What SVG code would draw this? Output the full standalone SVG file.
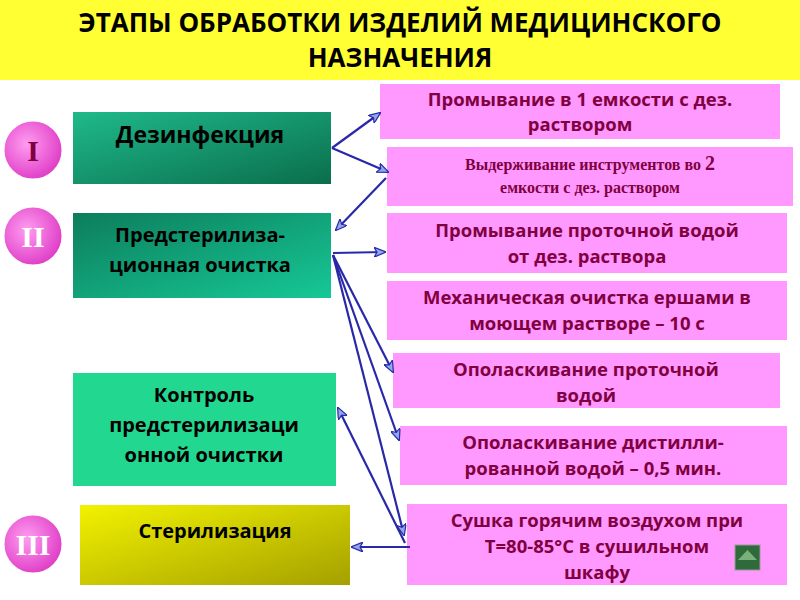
<svg xmlns="http://www.w3.org/2000/svg" width="800" height="600" viewBox="0 0 800 600">
<defs>
<linearGradient id="gDez" x1="0" y1="0" x2="1" y2="1"><stop offset="0" stop-color="#1fb98a"/><stop offset="1" stop-color="#0a6e4c"/></linearGradient>
<linearGradient id="gPre" x1="0" y1="0" x2="1" y2="1"><stop offset="0" stop-color="#0d7d5c"/><stop offset="1" stop-color="#16c896"/></linearGradient>
<linearGradient id="gSt" x1="0" y1="0" x2="1" y2="1"><stop offset="0" stop-color="#f2f200"/><stop offset="1" stop-color="#a4a000"/></linearGradient>
<radialGradient id="gC" cx="0.4" cy="0.4" r="0.6"><stop offset="0" stop-color="#ff9cf0"/><stop offset="1" stop-color="#e040c8"/></radialGradient>
<marker id="ar" viewBox="0 0 12 10" refX="11" refY="5" markerWidth="12" markerHeight="10" markerUnits="userSpaceOnUse" orient="auto"><path d="M0,0 L12,5 L0,10 L3,5 Z" fill="#8fa8e8" stroke="#2a2aa8" stroke-width="1.2"/></marker>
</defs>
<style>
.pk{fill:#ff99ff}
.pt{font-family:"Open Sans","DejaVu Sans",sans-serif;font-weight:bold;font-size:18.5px;fill:#800040;text-anchor:middle}
.st{font-family:"Open Sans","DejaVu Sans",sans-serif;font-weight:bold;font-size:20px;fill:#000;text-anchor:middle}
.cl{fill:url(#gC);stroke:#ffffff;stroke-width:3}
.ct{font-family:"Liberation Serif",serif;font-weight:bold;font-size:30px;fill:#800040;text-anchor:middle}
.cn line{stroke:#2828a8;stroke-width:2.2;fill:none;marker-end:url(#ar)}
</style>
<rect width="800" height="600" fill="#fff"/>
<rect width="800" height="80" fill="#ffff33"/>
<text x="400" y="32" class="st" style="font-size:26px">ЭТАПЫ ОБРАБОТКИ ИЗДЕЛИЙ МЕДИЦИНСКОГО</text>
<text x="400" y="67" class="st" style="font-size:26px">НАЗНАЧЕНИЯ</text>
<g id="c1"><circle cx="33" cy="150" r="30" class="cl"/><text x="33" y="161" class="ct">I</text></g>
<g id="c2"><circle cx="33" cy="236" r="30" class="cl"/><text x="33" y="247" class="ct" style="fill:#fff">II</text></g>
<g id="c3"><circle cx="33" cy="544" r="30" class="cl"/><text x="33" y="555" class="ct" style="fill:#fff">III</text></g>
<g id="dez"><rect x="73" y="112" width="258" height="72" fill="url(#gDez)"/><text x="200" y="143" class="st" style="font-size:23px">Дезинфекция</text></g>
<g id="pre"><rect x="73" y="213" width="258" height="85" fill="url(#gPre)"/><text x="200" y="242" class="st">Предстерилиза-</text><text x="200" y="272" class="st">ционная очистка</text></g>
<g id="kon"><rect x="73" y="373" width="263" height="113" fill="#22d890"/><text x="204" y="402" class="st">Контроль</text><text x="204" y="432" class="st">предстерилизаци</text><text x="204" y="462" class="st">онной очистки</text></g>
<g id="ster"><rect x="80" y="505" width="270" height="80" fill="url(#gSt)"/><text x="215" y="538" class="st">Стерилизация</text></g>
<g id="b1"><rect x="380" y="84" width="400" height="55" class="pk"/><text x="580" y="106" class="pt">Промывание в 1 емкости с дез.</text><text x="580" y="131" class="pt">раствором</text></g>
<g id="b2"><rect x="387" y="147" width="406" height="59" class="pk"/><text x="590" y="170" class="pt" style="font-family:'Liberation Serif',serif;font-size:16px">Выдерживание инструментов во <tspan font-size="20">2</tspan></text><text x="590" y="193" class="pt" style="font-family:'Liberation Serif',serif;font-size:16px">емкости с дез. раствором</text></g>
<g id="b3"><rect x="387" y="213" width="400" height="60" class="pk"/><text x="587" y="237" class="pt">Промывание проточной водой</text><text x="587" y="263" class="pt">от дез. раствора</text></g>
<g id="b4"><rect x="387" y="281" width="400" height="59" class="pk"/><text x="587" y="304" class="pt">Механическая очистка ершами в</text><text x="587" y="330" class="pt">моющем растворе – 10 с</text></g>
<g id="b5"><rect x="393" y="353" width="387" height="55" class="pk"/><text x="586" y="376" class="pt">Ополаскивание проточной</text><text x="586" y="402" class="pt">водой</text></g>
<g id="b6"><rect x="400" y="426" width="387" height="59" class="pk"/><text x="593" y="449" class="pt">Ополаскивание дистилли-</text><text x="593" y="475" class="pt">рованной водой – 0,5 мин.</text></g>
<g id="b7"><rect x="407" y="504" width="380" height="81" class="pk"/><text x="597" y="527" class="pt">Сушка горячим воздухом при</text><text x="597" y="553" class="pt">Т=80-85°С в сушильном</text><text x="597" y="579" class="pt">шкафу</text></g>
<g id="home"><rect x="735" y="545" width="25" height="25" fill="#2f6a3a" stroke="#999"/><path d="M738,560 L747.5,550 L757,560 Z" fill="#7ab07a"/></g>
<g id="connectors" class="cn">
<line x1="332" y1="148" x2="380" y2="113"/>
<line x1="332" y1="148" x2="388" y2="172"/>
<line x1="386" y1="178" x2="336" y2="230"/>
<line x1="333" y1="253" x2="385" y2="252"/>
<line x1="333" y1="255" x2="393" y2="372"/>
<line x1="333" y1="255" x2="399" y2="440"/>
<line x1="333" y1="255" x2="404" y2="535"/>
<line x1="405" y1="543" x2="338" y2="408"/>
<line x1="410" y1="547" x2="352" y2="547"/>
</g>
</svg>
